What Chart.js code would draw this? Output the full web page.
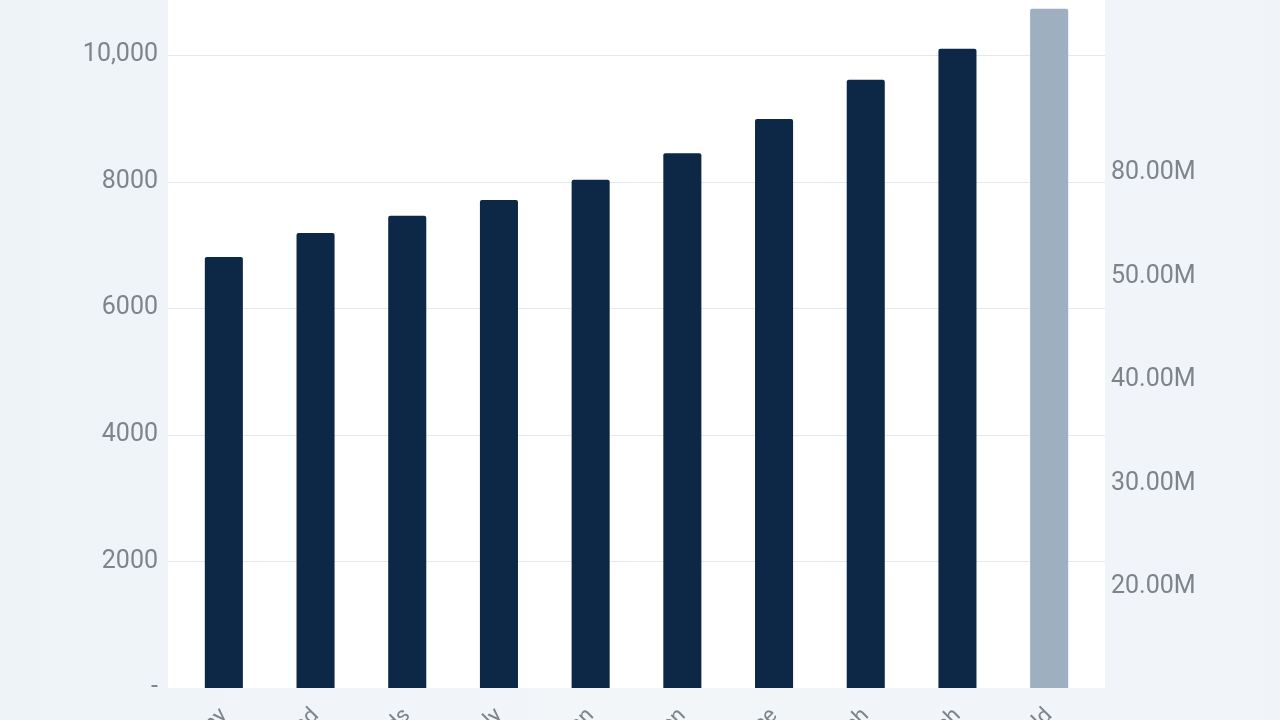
<!DOCTYPE html>
<html>
<head>
<meta charset="utf-8">
<script src="https://cdn.jsdelivr.net/npm/chart.js@4/dist/chart.umd.min.js"></script>
<style>
  html, body { margin: 0; padding: 0; overflow: hidden; }
  body { background: linear-gradient(90deg, #eef3f8 0%, #f3f6f9 50%, #f0f4f8 100%); }
  #wrap { position: relative; width: 1280px; height: 720px; }
</style>
</head>
<body>
<div id="wrap"><canvas id="chart"></canvas></div>
<script>
// categories (labels are mostly cut off at the bottom of the picture)
const countries = ["Germany", "Poland", "Netherlands", "Italy", "Japan", "Sweden", "France", "Czech", "Bangladesh", "World"];
// bar values, left axis
const values = [6810, 7190, 7460, 7710, 8030, 8450, 8990, 9610, 10100, 10730];
// tick labels
const leftTicks = [0, 2000, 4000, 6000, 8000, 10000];
const rightTicks = ["20.00M", "30.00M", "40.00M", "50.00M", "80.00M"];

const NAVY = "#0d2747";
const GREY = "#9eafc0";
const TICK_COLOR = "#7d848b";

// white plot panel + gridlines, a bit wider than the chart area
const plotBg = {
  id: "plotBg",
  beforeDraw(chart) {
    const { ctx, chartArea: a, scales: { y } } = chart;
    ctx.save();
    ctx.fillStyle = "#ffffff";
    ctx.fillRect(a.left - 10, a.top, a.right - a.left + 20, a.bottom - a.top);
    ctx.strokeStyle = "#e4e8ec";
    ctx.lineWidth = 1;
    y.ticks.forEach((t) => {
      if (!t.value) return;
      const py = Math.round(y.getPixelForValue(t.value)) + 0.5;
      ctx.beginPath();
      ctx.moveTo(a.left - 10, py);
      ctx.lineTo(a.right + 10, py);
      ctx.stroke();
    });
    ctx.restore();
  }
};

function noPad(s) {
  s.paddingTop = 0; s.paddingBottom = 0; s.paddingLeft = 0; s.paddingRight = 0;
}

new Chart(document.getElementById("chart"), {
  type: "bar",
  data: {
    labels: countries,
    datasets: [{
      data: values,
      backgroundColor: (c) => c.dataIndex === countries.length - 1 ? GREY : NAVY,
      borderRadius: 2,
      borderSkipped: "bottom",
      categoryPercentage: 1,
      barPercentage: 0.415
    }]
  },
  options: {
    responsive: true,
    maintainAspectRatio: false,
    animation: false,
    layout: { padding: 0 },
    plugins: { legend: { display: false }, tooltip: { enabled: false } },
    scales: {
      x: {
        grid: { display: false, drawTicks: false },
        border: { display: false },
        ticks: {
          color: TICK_COLOR,
          font: { family: "Roboto", size: 22 },
          minRotation: 45,
          maxRotation: 45,
          padding: 15,
          autoSkip: false
        },
        afterFit(s) { noPad(s); s.height = 32; }
      },
      y: {
        position: "left",
        min: 0,
        max: 10870,
        grid: { display: false, drawTicks: false },
        border: { display: false },
        ticks: {
          color: TICK_COLOR,
          font: { family: "Roboto", size: 25 },
          padding: 20,
          callback: (v) => v === 0 ? "-" : v >= 10000 ? v.toLocaleString("en-US") : String(v)
        },
        afterBuildTicks(s) { s.ticks = leftTicks.map((v) => ({ value: v })); },
        afterFit(s) { noPad(s); s.width = 178; }
      },
      y1: {
        position: "right",
        min: 0.024,
        max: 6.67,
        grid: { display: false, drawTicks: false },
        border: { display: false },
        ticks: {
          color: TICK_COLOR,
          font: { family: "Roboto", size: 25 },
          padding: 16,
          callback: (v) => rightTicks[v - 1]
        },
        afterBuildTicks(s) { s.ticks = rightTicks.map((_, i) => ({ value: i + 1 })); },
        afterFit(s) { noPad(s); s.width = 185; }
      }
    }
  },
  plugins: [plotBg]
});
</script>
</body>
</html>
